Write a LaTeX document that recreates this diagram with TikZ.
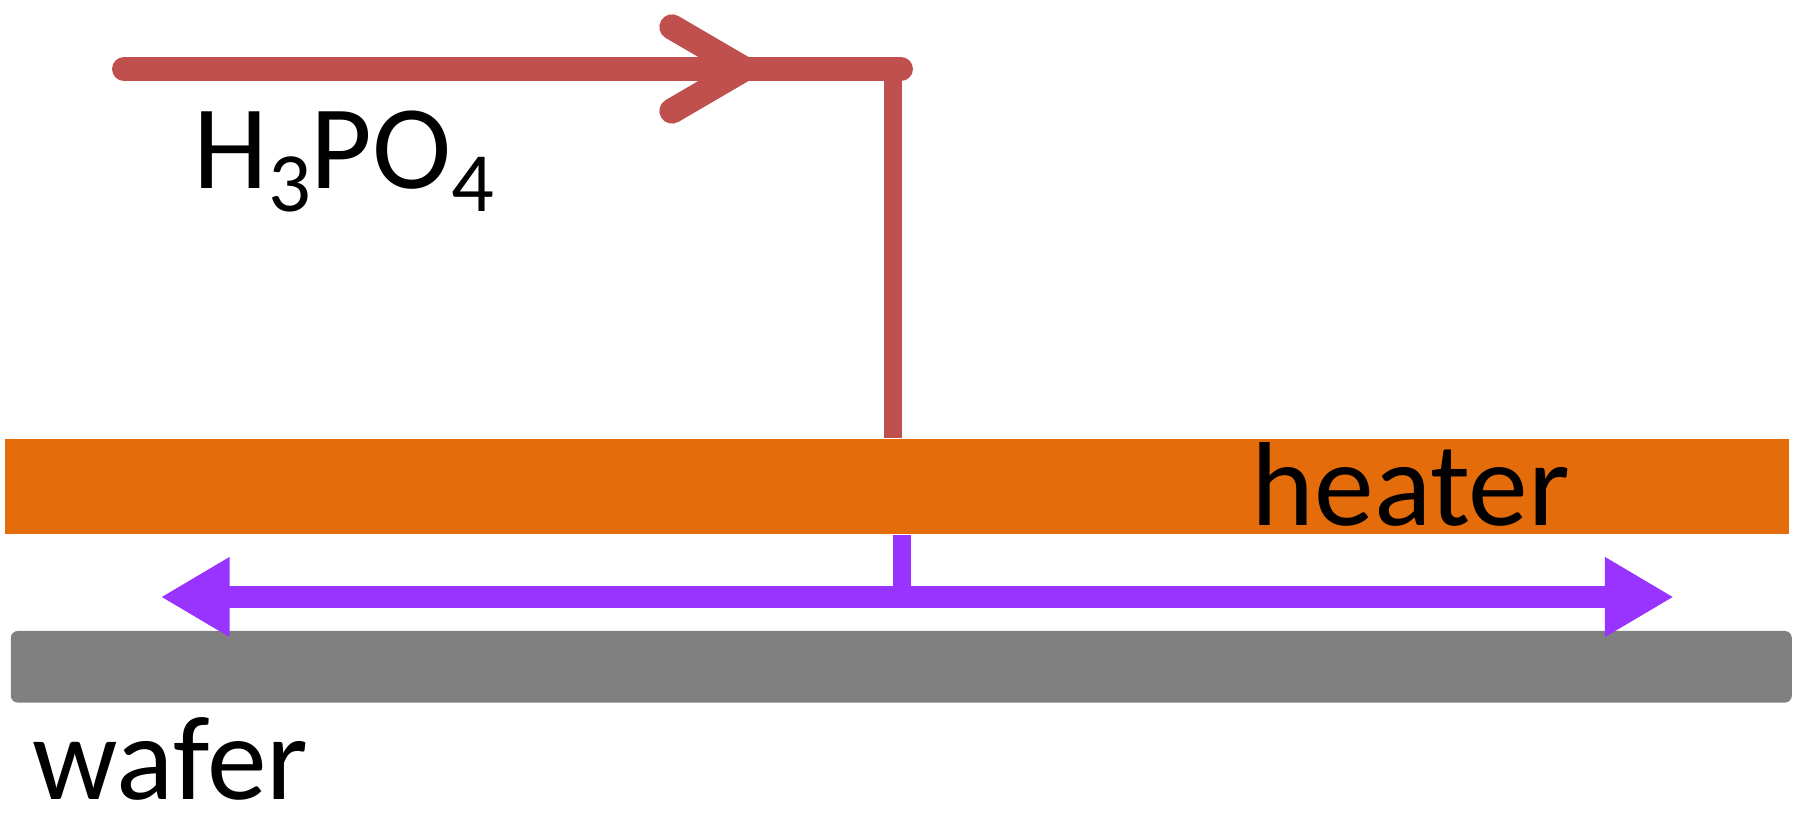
\documentclass[tikz,border=0pt]{standalone}
\usepackage{fontspec}
\setmainfont{Carlito}
\usetikzlibrary{arrows.meta}
\definecolor{acide}{HTML}{C0504D}
\definecolor{chauffe}{HTML}{E46C0A}
\definecolor{jet}{HTML}{9933FF}
\definecolor{plaque}{HTML}{808080}
\newcommand\chemsub[1]{\raisebox{-6.5pt}{\fontsize{24}{24}\selectfont #1}}
\tikzset{
  texte/.style={anchor=base west,inner sep=0pt,font=\fontsize{34}{40}\selectfont},
  barre/.style={rectangle,inner sep=0pt,minimum width=#1}
}
\begin{document}
\begin{tikzpicture}[x=0.01cm,y=-0.01cm] % chauffage et plaque, 1 unite = 1 pixel
\useasboundingbox (0,0) rectangle (1800,813);

\node [barre=17.83cm,minimum height=0.953cm,fill=chauffe] (heater) at (897.2,486.2) {};
\node [barre=17.80cm,minimum height=0.716cm,fill=plaque,rounded corners=2pt] (wafer) at (901.3,666.8) {};

\node [texte] (nomacide) at (193,189) {H\chemsub{3}PO\chemsub{4}};
\node [texte] (nomheater) at (1251,526) {heater};
\node [texte] (nomwafer) at (32,799) {wafer};

\coordinate (entree) at (124,69);
\coordinate (coude) at (901,69);
\coordinate (descente) at (893,69);
\coordinate (buse) at (902,597);
\coordinate (gauche) at (160.7,597);
\coordinate (droite) at (1673.8,597);

\draw [line width=6.8pt,color=acide,line cap=round] (entree) -- (coude);
\draw [line width=7.2pt,color=acide,line cap=round,line join=round] (672,27) -- (744,69) -- (672,111);
\draw [line width=5.1pt,color=acide] (descente) -- (descente |- heater.north);

\draw [line width=5.1pt,color=jet] (heater.south -| buse) -- (buse);
\draw [line width=6.5pt,color=jet,{Triangle[length=0.69cm,width=0.75cm]}-{Triangle[length=0.69cm,width=0.75cm]}] (gauche) -- (droite);

\end{tikzpicture}
\end{document}
